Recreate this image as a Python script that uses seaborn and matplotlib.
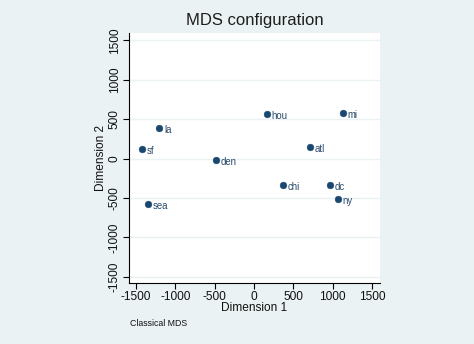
import matplotlib
matplotlib.use("Agg")
import matplotlib.pyplot as plt
import seaborn as sns
import pandas as pd

cities = ["la", "sf", "den", "sea", "hou", "chi", "mi", "atl", "dc", "ny"]
dim1 = [-1203, -1422, -479, -1350, 161, 372, 1126, 711, 969, 1067]
dim2 = [390, 119, -20, -571, 571, -334, 584, 145, -334, -508]
ticks = [-1500, -1000, -500, 0, 500, 1000, 1500]

df = pd.DataFrame({"city": cities, "d1": dim1, "d2": dim2})

sns.set_theme(style="white")
plt.rcParams["font.family"] = ["Liberation Sans", "DejaVu Sans"]

bg = "#EAF2F3"
navy = "#1A476F"

fig = plt.figure(figsize=(4.74, 3.44), dpi=100, facecolor=bg)
ax = fig.add_axes([129/474, 1-283/344, (380-129)/474, (283-33)/344])
ax.set_facecolor("white")

sns.scatterplot(data=df, x="d1", y="d2", ax=ax, color=navy, s=24,
                edgecolor=navy, linewidth=0.3, zorder=3)
for c, x, y in zip(cities, dim1, dim2):
    ax.annotate(c, (x, y), xytext=(3.2, -1.5), textcoords="offset points",
                ha="left", va="center", fontsize=6.9, color="#2A4A6A")

ax.set_xlim(-1590, 1600)
ax.set_ylim(-1580, 1595)
ax.set_xticks(ticks)
ax.set_yticks(ticks)
ax.set_xticklabels([str(t) for t in ticks], fontsize=8.6, color="#111111")
ax.set_yticklabels([str(t) for t in ticks], fontsize=8.6, rotation=90, va="center",
                   color="#111111")
ax.tick_params(axis="both", direction="out", length=4, width=0.8, color="black",
               pad=2, bottom=True, left=True)
ax.yaxis.grid(True, color=bg, linewidth=1)
ax.xaxis.grid(False)
ax.set_axisbelow(True)
for s in ["top", "right"]:
    ax.spines[s].set_visible(False)
for s in ["left", "bottom"]:
    ax.spines[s].set_color("black")
    ax.spines[s].set_linewidth(0.8)

ax.set_xlabel("Dimension 1", fontsize=8.6, labelpad=-1, color="#111111")
ax.set_ylabel("Dimension 2", fontsize=8.6, labelpad=1, color="#111111")
ax.set_title("MDS configuration", fontsize=12, pad=6, color="#1E1E1E")

fig.text(130/474, 1-324/344, "Classical MDS", fontsize=6.3, ha="left", va="center",
         color="#111111")

fig.savefig("out.png", dpi=100, facecolor=bg)
